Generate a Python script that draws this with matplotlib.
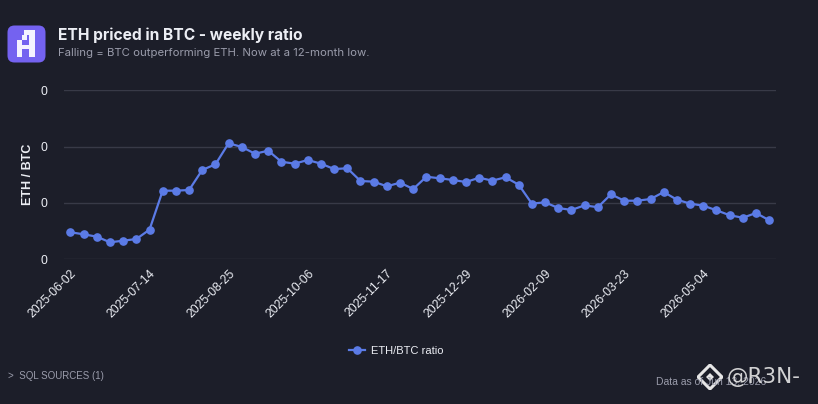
import numpy as np
import pandas as pd
import matplotlib
matplotlib.use('Agg')
import matplotlib.pyplot as plt
from matplotlib.patches import FancyBboxPatch, Rectangle, RegularPolygon

# weekly ETH/BTC ratio
weeks = pd.date_range('2025-06-02', periods=54, freq='7D')
ratio = [0.02240, 0.02222, 0.02201, 0.02151, 0.02165, 0.02180, 0.02263, 0.02609,
         0.02609, 0.02615, 0.02793, 0.02843, 0.03030, 0.02997, 0.02937, 0.02964,
         0.02866, 0.02849, 0.02881, 0.02849, 0.02801, 0.02808, 0.02695, 0.02689,
         0.02648, 0.02680, 0.02624, 0.02733, 0.02719, 0.02704, 0.02686, 0.02724,
         0.02698, 0.02728, 0.02662, 0.02494, 0.02506, 0.02455, 0.02438, 0.02479,
         0.02462, 0.02577, 0.02520, 0.02520, 0.02535, 0.02597, 0.02529, 0.02494,
         0.02476, 0.02435, 0.02391, 0.02369, 0.02411, 0.02346]
y_ticks = [0.020, 0.025, 0.030, 0.035]
tick_dates = weeks[::6]

BG = '#1c1e29'
LINE = '#5b7be6'
GRID = '#383a47'
TXT = '#eceef4'
MUTED = '#9a9cab'

W, H = 818, 404
def fx(x): return x / W
def fy(y): return 1 - y / H

fig = plt.figure(figsize=(W / 100, H / 100), dpi=100, facecolor=BG)

ax = fig.add_axes([fx(64), fy(259.3), fx(776) - fx(64), fy(90.3) - fy(259.3)])
ax.set_facecolor(BG)
ax.plot(weeks, ratio, color=LINE, lw=1.6, marker='o', ms=5.2, label='ETH/BTC ratio')
ax.set_xlim(weeks[0] - pd.Timedelta(days=3.4), weeks[-1] + pd.Timedelta(days=3.6))
ax.set_ylim(y_ticks[0], y_ticks[-1])
ax.set_yticks(y_ticks)
ax.set_yticklabels(['%.0f' % v for v in y_ticks])
ax.set_xticks(tick_dates)
ax.set_xticklabels([d.strftime('%Y-%m-%d') for d in tick_dates], rotation=45,
                   ha='right', va='top', rotation_mode='anchor')
ax.tick_params(axis='both', length=0, colors=TXT, labelsize=8.7)
ax.tick_params(axis='x', pad=6)
ax.tick_params(axis='y', pad=12)
for lab in ax.get_xticklabels() + ax.get_yticklabels():
    lab.set_family('Liberation Sans')
ax.grid(axis='y', color=GRID, lw=1)
ax.set_axisbelow(True)
for s in ax.spines.values():
    s.set_visible(False)
ax.set_ylabel('ETH / BTC', color=TXT, fontsize=9, fontweight='bold',
              family='Liberation Sans', labelpad=5)

leg = fig.legend(loc='center', bbox_to_anchor=(fx(396), fy(351)), frameon=False,
                 prop={'family': 'Liberation Sans', 'size': 8}, handlelength=1.5,
                 handletextpad=0.5)
for t in leg.get_texts():
    t.set_color(TXT)

# logo
lax = fig.add_axes([fx(7), fy(63), fx(46) - fx(7), fy(25) - fy(63)])
lax.set_xlim(0, 39)
lax.set_ylim(38, 0)
lax.axis('off')
lax.add_patch(FancyBboxPatch((0.5, 0.5), 38, 37, boxstyle='round,pad=0,rounding_size=7',
                             fc='#7462f0', ec='none'))
for (x0, y0, w, h) in [(22, 5, 6, 27), (17, 5, 11, 5), (15, 10, 5, 5),
                       (10, 15, 5, 17), (10, 20, 18, 4)]:
    lax.add_patch(Rectangle((x0, y0), w, h, fc='#f4f2ff', ec='none'))

fig.text(fx(58), fy(35), 'ETH priced in BTC - weekly ratio', color=TXT, fontsize=11.2,
         fontweight='bold', family='Inter', va='center')
fig.text(fx(58), fy(53), 'Falling = BTC outperforming ETH. Now at a 12-month low.',
         color=MUTED, fontsize=8.2, family='Inter', va='center')

fig.text(fx(8), fy(376), '>  SQL SOURCES (1)', color=MUTED, fontsize=7,
         family='Liberation Sans', va='center')
fig.text(fx(656), fy(381), 'Data as of Jun 13, 2026', color=MUTED, fontsize=7.5,
         family='Liberation Sans', va='center')

# watermark overlay: diamond badge drawn as shapes, then the handle
wax = fig.add_axes([fx(697), fy(390), fx(723) - fx(697), fy(364) - fy(390)])
wax.set_xlim(-13, 13)
wax.set_ylim(-13, 13)
wax.axis('off')
wax.add_patch(RegularPolygon((0, 0), 4, radius=12, fc='none', ec='#e6e6e6', lw=2.2))
wax.add_patch(RegularPolygon((0, 0), 4, radius=4, fc='#e6e6e6', ec='none'))
fig.text(fx(727), fy(377), '@R3N-', color='#e6e6e6', fontsize=15.5,
         family='DejaVu Sans', va='center', alpha=0.9)

fig.savefig('out.png', dpi=100, facecolor=BG)
